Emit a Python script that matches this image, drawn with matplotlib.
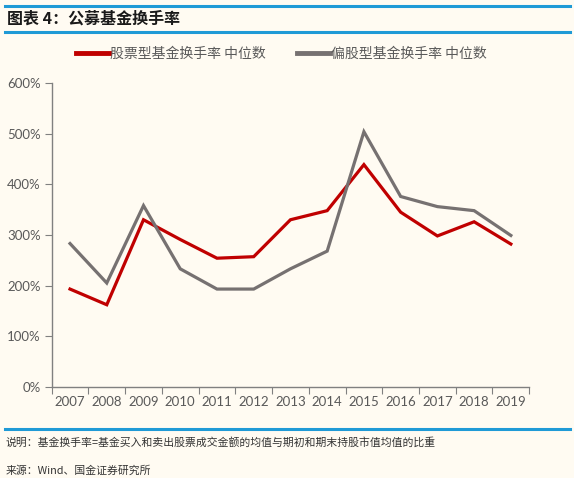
import matplotlib
matplotlib.use("Agg")
import matplotlib.pyplot as plt
from matplotlib.lines import Line2D
import numpy as np

plt.rcParams["font.family"] = ["Noto Sans CJK SC", "DejaVu Sans"]

years = ["2007", "2008", "2009", "2010", "2011", "2012", "2013",
         "2014", "2015", "2016", "2017", "2018", "2019"]
# turnover, in percent
stock_fund = [193, 162, 330, 291, 254, 257, 330, 348, 439, 345, 298, 326, 282]
hybrid_fund = [283, 205, 358, 233, 193, 193, 233, 268, 504, 376, 356, 348, 299]
y_ticks = [0, 100, 200, 300, 400, 500, 600]

BG = "#FFFBF2"
RED = "#C00000"
GRAY = "#767171"
BLUE = "#1F9AD6"
TXT = "#595959"

fig = plt.figure(figsize=(5.74, 4.78), dpi=100, facecolor=BG)
ax = fig.add_axes([0.090, 0.191, 0.832, 0.635], facecolor=BG)

x = np.arange(len(years))
ax.plot(x, stock_fund, color=RED, lw=2.3, solid_joinstyle="miter")
ax.plot(x, hybrid_fund, color=GRAY, lw=2.3, solid_joinstyle="miter")

ax.set_xlim(-0.5, len(years) - 0.5)
ax.set_ylim(0, 600)
ax.set_yticks(y_ticks)
ax.set_yticklabels([f"{v}%" for v in y_ticks], fontsize=9.5, color=TXT, family="Lato")

# ticks sit between categories, labels in the middle
ax.set_xticks(np.arange(-0.5, len(years), 1.0))
ax.set_xticklabels([])
ax.set_xticks(x, minor=True)
ax.set_xticklabels(years, minor=True, fontsize=9.5, color=TXT, family="Lato")
ax.tick_params(axis="x", which="major", direction="out", length=5, color="#808080")
ax.tick_params(axis="x", which="minor", length=0, pad=7)
ax.tick_params(axis="y", direction="out", length=5, color="#808080", pad=3)

for s in ["top", "right"]:
    ax.spines[s].set_visible(False)
for s in ["left", "bottom"]:
    ax.spines[s].set_color("#808080")
    ax.spines[s].set_linewidth(1.0)

handles = [Line2D([], [], color=RED, lw=3.5), Line2D([], [], color=GRAY, lw=3.5)]
fig.legend(handles, ["股票型基金换手率 中位数", "偏股型基金换手率 中位数"],
           loc="center", bbox_to_anchor=(0.49, 0.887), ncol=2, frameon=False,
           fontsize=10, handlelength=2.4, handletextpad=0.1, columnspacing=2.2,
           labelcolor=TXT)

# header and footer lines
fig.add_artist(Line2D([0.009, 0.993], [1 - 6 / 478, 1 - 6 / 478], color=BLUE, lw=2.2))
fig.add_artist(Line2D([0.009, 0.993], [1 - 32 / 478, 1 - 32 / 478], color=BLUE, lw=2.2))
fig.add_artist(Line2D([0.009, 0.993], [1 - 429 / 478, 1 - 429 / 478], color=BLUE, lw=2.2))

fig.text(0.012, 1 - 19 / 478, "图表 4：公募基金换手率", fontsize=11.5, fontweight="bold",
         style="italic", color="#1a1a1a", va="center")
fig.text(0.009, 1 - 442 / 478, "说明：基金换手率=基金买入和卖出股票成交金额的均值与期初和期末持股市值均值的比重",
         fontsize=7.8, color="#333333", va="center")
fig.text(0.009, 1 - 471 / 478, "来源：Wind、国金证券研究所", fontsize=7.8, color="#333333", va="center")

fig.savefig("out.png", dpi=100, facecolor=BG)
